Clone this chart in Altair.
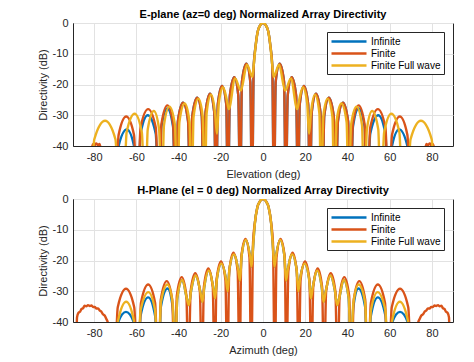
import altair as alt
import pandas as pd

SERIES_NAMES = ["Infinite", "Finite", "Finite Full wave"]
SERIES_COLORS = ["#0072BD", "#D95319", "#EDB120"]
X_TICKS = [-80, -60, -40, -20, 0, 20, 40, 60, 80]
Y_TICKS = [-40, -30, -20, -10, 0]

# ---------------- E-plane (az = 0 deg) : [angle deg, directivity dB] ----------------
E_INFINITE = [
    [-90, -60], [-70.0, -60],
    [-68.4, -40.0], [-64.5, -34.6], [-61.1, -40.0], [-59.5, -60],
    [-58.0, -36.0], [-54.6, -30.0], [-50.8, -36.0], [-49.3, -60],
    [-48.1, -33.8], [-45.3, -27.8], [-42.6, -33.8], [-41.4, -60],
    [-40.3, -31.9], [-37.9, -25.9], [-35.5, -31.9], [-34.4, -60],
    [-33.5, -30.3], [-31.2, -24.3], [-29.0, -30.3], [-28.1, -60],
    [-27.2, -29.0], [-25.1, -23.0], [-23.1, -29.0], [-22.2, -60],
    [-21.4, -26.5], [-19.4, -20.5], [-17.4, -26.5], [-16.6, -60],
    [-15.7, -23.6], [-13.6, -17.6], [-11.7, -23.6], [-10.8, -60],
    [-10.0, -19.2], [-7.9, -13.2], [-6.0, -19.2], [-5.2, -60],
    [-4.4, -14.0], [-3.5, -7.5], [-2.5, -2.8], [-1.2, -0.6], [0, 0],
    [1.2, -0.6], [2.5, -2.8], [3.5, -7.5], [4.4, -14.0], [5.2, -60],
    [6.0, -19.2], [7.9, -13.2], [10.0, -19.2], [10.8, -60],
    [11.7, -23.6], [13.6, -17.6], [15.7, -23.6], [16.6, -60],
    [17.4, -26.5], [19.4, -20.5], [21.4, -26.5], [22.2, -60],
    [23.1, -29.0], [25.1, -23.0], [27.2, -29.0], [28.1, -60],
    [29.0, -30.3], [31.2, -24.3], [33.5, -30.3], [34.4, -60],
    [35.5, -31.9], [37.9, -25.9], [40.3, -31.9], [41.4, -60],
    [42.6, -33.8], [45.3, -27.8], [48.1, -33.8], [49.3, -60],
    [50.8, -36.0], [54.6, -30.0], [58.0, -36.0], [59.5, -60],
    [61.1, -40.0], [64.5, -34.6], [68.4, -40.0], [70.0, -60], [90, -60],
]

E_FINITE = [
    [-90, -60], [-82.0, -55], [-81.2, -42], [-80.6, -39.4], [-79.8, -39.8], [-79.0, -39.2],
    [-78.2, -39.7], [-77.4, -39.3], [-76.6, -42], [-70.0, -60],
    [-68.4, -36.4], [-64.8, -30.4], [-61.1, -36.4], [-59.5, -60],
    [-58.0, -34.0], [-54.4, -28.0], [-50.8, -34.0], [-49.3, -60],
    [-48.1, -32.8], [-45.3, -26.8], [-42.6, -32.8], [-41.4, -60],
    [-40.3, -31.9], [-37.9, -25.9], [-35.5, -31.9], [-34.4, -60],
    [-33.5, -30.3], [-31.2, -24.3], [-29.0, -30.3], [-28.1, -60],
    [-27.2, -29.0], [-25.1, -23.0], [-23.1, -29.0], [-22.2, -60],
    [-21.4, -26.5], [-19.4, -20.5], [-17.4, -26.5], [-16.6, -60],
    [-15.7, -23.6], [-13.6, -17.6], [-11.7, -23.6], [-10.8, -60],
    [-10.0, -19.2], [-7.9, -13.2], [-6.0, -19.2], [-5.2, -60],
    [-4.4, -14.0], [-3.5, -7.5], [-2.5, -2.8], [-1.2, -0.6], [0, 0],
    [1.2, -0.6], [2.5, -2.8], [3.5, -7.5], [4.4, -14.0], [5.2, -60],
    [6.0, -19.2], [7.9, -13.2], [10.0, -19.2], [10.8, -60],
    [11.7, -23.6], [13.6, -17.6], [15.7, -23.6], [16.6, -60],
    [17.4, -26.5], [19.4, -20.5], [21.4, -26.5], [22.2, -60],
    [23.1, -29.0], [25.1, -23.0], [27.2, -29.0], [28.1, -60],
    [29.0, -30.3], [31.2, -24.3], [33.5, -30.3], [34.4, -60],
    [35.5, -31.9], [37.9, -25.9], [40.3, -31.9], [41.4, -60],
    [42.6, -32.8], [45.3, -26.8], [48.1, -32.8], [49.3, -60],
    [50.8, -34.0], [54.4, -28.0], [58.0, -34.0], [59.5, -60],
    [61.1, -36.4], [64.8, -30.4], [68.4, -36.4], [70.0, -60],
    [76.6, -42], [77.4, -39.3], [78.2, -39.7], [79.0, -39.2], [79.8, -39.8],
    [80.6, -39.4], [81.2, -42], [82.0, -55], [90, -60],
]

E_FULLWAVE = [
    [-90, -60], [-82.0, -60], [-79.9, -37.8], [-74.8, -31.8], [-69.9, -37.8], [-68.0, -60],
    [-66.2, -60], [-64.6, -35.5], [-60.8, -29.5], [-57.4, -35.5], [-55.8, -60],
    [-54.6, -34.6], [-51.7, -28.6], [-49.2, -34.6], [-48.0, -60],
    [-46.9, -33.2], [-44.3, -27.2], [-41.7, -33.2], [-40.6, -60],
    [-39.6, -32.2], [-37.1, -26.2], [-34.8, -32.2], [-33.8, -60],
    [-32.9, -30.6], [-30.6, -24.6], [-28.5, -30.6], [-27.6, -60],
    [-26.7, -29.3], [-24.6, -23.3], [-22.7, -29.3], [-21.8, -36.0],
    [-20.9, -26.0], [-18.9, -20.9], [-17.0, -25.5], [-16.2, -28.0],
    [-13.2, -18.0], [-10.5, -22.0], [-7.6, -13.6], [-5.0, -17.5],
    [-4.5, -14.5], [-3.5, -7.5], [-2.5, -2.8], [-1.2, -0.6], [0, 0],
    [1.2, -0.6], [2.5, -2.8], [3.5, -7.5], [4.5, -14.5],
    [5.0, -17.5], [7.6, -13.6], [10.5, -22.0], [13.2, -18.0],
    [16.2, -28.0], [17.0, -25.5], [18.9, -20.9], [20.9, -26.0],
    [21.8, -36.0], [22.7, -29.3], [24.6, -23.3], [26.7, -29.3],
    [27.6, -60], [28.5, -30.6], [30.6, -24.6], [32.9, -30.6],
    [33.8, -60], [34.8, -32.2], [37.1, -26.2], [39.6, -32.2],
    [40.6, -60], [41.7, -33.2], [44.3, -27.2], [46.9, -33.2],
    [48.0, -60], [49.2, -34.6], [51.7, -28.6], [54.6, -34.6],
    [55.8, -60], [57.4, -35.5], [60.8, -29.5], [64.6, -35.5], [66.2, -60],
    [68.0, -60], [69.9, -37.8], [74.8, -31.8], [79.9, -37.8], [82.0, -60], [90, -60],
]

# ---------------- H-plane (el = 0 deg) : [angle deg, directivity dB] ----------------
H_INFINITE = [
    [-90, -60], [-70.3, -60],
    [-68.8, -40.5], [-64.9, -36.7], [-61.0, -40.5], [-59.5, -60],
    [-58.0, -38.0], [-54.4, -32.0], [-51.1, -38.0], [-49.6, -60],
    [-48.4, -35.1], [-45.2, -29.1], [-42.8, -35.1], [-41.6, -50],
    [-40.6, -32.3], [-38.2, -26.3], [-36.1, -32.3], [-35.1, -34.5],
    [-34.1, -30.0], [-31.9, -24.9], [-29.7, -30.0], [-28.7, -33.5],
    [-27.8, -28.6], [-25.7, -23.3], [-23.6, -28.6], [-22.7, -32.3],
    [-21.8, -25.8], [-19.7, -21.0], [-17.6, -25.8], [-16.7, -30.0],
    [-15.9, -22.8], [-13.8, -18.0], [-11.8, -22.8], [-10.9, -26.5],
    [-10.1, -18.3], [-8.1, -13.3], [-6.2, -18.3], [-5.4, -22.0],
    [-4.6, -14.5], [-3.8, -7.5], [-2.7, -2.8], [-1.3, -0.6], [0, 0],
    [1.3, -0.6], [2.7, -2.8], [3.8, -7.5], [4.6, -14.5], [5.4, -22.0],
    [6.2, -18.3], [8.1, -13.3], [10.1, -18.3], [10.9, -26.5],
    [11.8, -22.8], [13.8, -18.0], [15.9, -22.8], [16.7, -30.0],
    [17.6, -25.8], [19.7, -21.0], [21.8, -25.8], [22.7, -32.3],
    [23.6, -28.6], [25.7, -23.3], [27.8, -28.6], [28.7, -33.5],
    [29.7, -30.0], [31.9, -24.9], [34.1, -30.0], [35.1, -34.5],
    [36.1, -32.3], [38.2, -26.3], [40.6, -32.3], [41.6, -50],
    [42.8, -35.1], [45.2, -29.1], [48.4, -35.1], [49.6, -60],
    [51.1, -38.0], [54.4, -32.0], [58.0, -38.0], [59.5, -60],
    [61.0, -40.5], [64.9, -36.7], [68.8, -40.5], [70.3, -60], [90, -60],
]

H_FINITE = [
    [-90, -60], [-88.6, -55], [-88.1, -38.5], [-87.4, -37.0], [-86.6, -36.6], [-86.0, -35.8],
    [-85.2, -35.5], [-84.5, -34.7], [-83.7, -34.9], [-82.9, -34.5], [-82.0, -34.8],
    [-81.3, -34.6], [-80.5, -35.1], [-79.7, -35.1], [-78.9, -35.6], [-78.1, -35.6],
    [-77.3, -36.3], [-76.6, -36.6], [-75.8, -37.5], [-75.0, -37.9], [-74.2, -39.0],
    [-73.4, -40.5], [-72.6, -48], [-70.5, -60],
    [-68.8, -35.2], [-64.9, -29.2], [-61.0, -35.2], [-59.3, -60],
    [-57.8, -33.8], [-54.4, -27.8], [-51.1, -33.8], [-49.6, -60],
    [-48.4, -32.7], [-45.6, -26.7], [-43.0, -32.7], [-41.8, -60],
    [-40.8, -31.4], [-38.5, -25.4], [-36.3, -31.4], [-35.3, -60],
    [-34.3, -30.1], [-32.1, -24.1], [-29.9, -30.1], [-28.9, -60],
    [-28.0, -28.6], [-25.9, -22.6], [-23.8, -28.6], [-22.9, -60],
    [-22.0, -26.3], [-19.9, -20.3], [-17.8, -26.3], [-16.9, -60],
    [-16.0, -23.5], [-14.0, -17.5], [-12.0, -23.5], [-11.1, -60],
    [-10.3, -19.0], [-8.3, -13.0], [-6.4, -19.0], [-5.6, -60],
    [-4.7, -14.0], [-3.8, -7.5], [-2.7, -2.8], [-1.3, -0.6], [0, 0],
    [1.3, -0.6], [2.7, -2.8], [3.8, -7.5], [4.7, -14.0], [5.6, -60],
    [6.4, -19.0], [8.3, -13.0], [10.3, -19.0], [11.1, -60],
    [12.0, -23.5], [14.0, -17.5], [16.0, -23.5], [16.9, -60],
    [17.8, -26.3], [19.9, -20.3], [22.0, -26.3], [22.9, -60],
    [23.8, -28.6], [25.9, -22.6], [28.0, -28.6], [28.9, -60],
    [29.9, -30.1], [32.1, -24.1], [34.3, -30.1], [35.3, -60],
    [36.3, -31.4], [38.5, -25.4], [40.8, -31.4], [41.8, -60],
    [43.0, -32.7], [45.6, -26.7], [48.4, -32.7], [49.6, -60],
    [51.1, -33.8], [54.4, -27.8], [57.8, -33.8], [59.3, -60],
    [61.0, -35.2], [64.9, -29.2], [68.8, -35.2], [70.5, -60],
    [72.6, -48], [73.4, -40.5], [74.2, -39.0], [75.0, -37.9], [75.8, -37.5],
    [76.6, -36.6], [77.3, -36.3], [78.1, -35.6], [78.9, -35.6], [79.7, -35.1],
    [80.5, -35.1], [81.3, -34.6], [82.0, -34.8], [82.9, -34.5], [83.7, -34.9],
    [84.5, -34.7], [85.2, -35.5], [86.0, -35.8], [86.6, -36.6], [87.4, -37.0],
    [88.1, -38.5], [88.6, -55], [90, -60],
]

H_FULLWAVE = [
    [-90, -60], [-70.3, -60],
    [-68.6, -39.4], [-64.8, -33.4], [-61.2, -39.4], [-59.5, -60],
    [-58.0, -36.3], [-54.3, -30.3], [-51.1, -36.3], [-49.6, -60],
    [-48.4, -33.8], [-45.3, -27.8], [-42.8, -33.8], [-41.6, -50],
    [-40.6, -32.3], [-38.2, -26.3], [-36.1, -32.3], [-35.1, -34.5],
    [-34.1, -30.0], [-31.9, -24.9], [-29.7, -30.0], [-28.7, -33.5],
    [-27.8, -28.6], [-25.7, -23.3], [-23.6, -28.6], [-22.7, -32.3],
    [-21.8, -25.8], [-19.7, -21.0], [-17.6, -25.8], [-16.7, -30.0],
    [-15.9, -22.8], [-13.8, -18.0], [-11.8, -22.8], [-10.9, -26.5],
    [-10.1, -18.3], [-8.1, -13.3], [-6.2, -18.3], [-5.4, -22.0],
    [-4.6, -14.5], [-3.8, -7.5], [-2.7, -2.8], [-1.3, -0.6], [0, 0],
    [1.3, -0.6], [2.7, -2.8], [3.8, -7.5], [4.6, -14.5], [5.4, -22.0],
    [6.2, -18.3], [8.1, -13.3], [10.1, -18.3], [10.9, -26.5],
    [11.8, -22.8], [13.8, -18.0], [15.9, -22.8], [16.7, -30.0],
    [17.6, -25.8], [19.7, -21.0], [21.8, -25.8], [22.7, -32.3],
    [23.6, -28.6], [25.7, -23.3], [27.8, -28.6], [28.7, -33.5],
    [29.7, -30.0], [31.9, -24.9], [34.1, -30.0], [35.1, -34.5],
    [36.1, -32.3], [38.2, -26.3], [40.6, -32.3], [41.6, -50],
    [42.8, -33.8], [45.3, -27.8], [48.4, -33.8], [49.6, -60],
    [51.1, -36.3], [54.3, -30.3], [58.0, -36.3], [59.5, -60],
    [61.2, -39.4], [64.8, -33.4], [68.6, -39.4], [70.3, -60], [90, -60],
]

FONT = "Liberation Sans"
AXIS_COLOR = "#262626"


def panel(series, title, xtitle):
    layers = []
    for name, pts in series:
        df = pd.DataFrame(pts, columns=["x", "y"])
        df["series"] = name
        layers.append(
            alt.Chart(df)
            .mark_line(clip=True, strokeWidth=2.4, interpolate="monotone")
            .encode(
                x=alt.X(
                    "x:Q",
                    scale=alt.Scale(domain=[-90, 90], nice=False, zero=False),
                    axis=alt.Axis(
                        title=xtitle, values=X_TICKS, labelExpr="datum.value + ''",
                        labelPadding=5, titlePadding=6,
                    ),
                ),
                y=alt.Y(
                    "y:Q",
                    scale=alt.Scale(domain=[-40, 0], nice=False, zero=False),
                    axis=alt.Axis(
                        title="Directivity (dB)", values=Y_TICKS, labelExpr="datum.value + ''",
                        labelPadding=5, titlePadding=4,
                    ),
                ),
                color=alt.Color(
                    "series:N",
                    scale=alt.Scale(domain=SERIES_NAMES, range=SERIES_COLORS),
                    legend=alt.Legend(
                        title=None, orient="top-right", offset=9,
                        symbolType="M-1,0H6", symbolSize=100, symbolStrokeWidth=2.5,
                        labelFont=FONT, labelFontSize=10, labelColor="#000000",
                        labelOffset=28, rowPadding=0, padding=3,
                        strokeColor=AXIS_COLOR, fillColor="white", cornerRadius=0,
                    ),
                ),
            )
        )
    return alt.layer(*layers).properties(
        width=380, height=123,
        title=alt.TitleParams(title, anchor="middle", frame="group", offset=-3),
    )


top = panel(
    [("Infinite", E_INFINITE), ("Finite", E_FINITE), ("Finite Full wave", E_FULLWAVE)],
    "E-plane (az=0 deg) Normalized Array Directivity", "Elevation (deg)",
)
bottom = panel(
    [("Infinite", H_INFINITE), ("Finite", H_FINITE), ("Finite Full wave", H_FULLWAVE)],
    "H-Plane (el = 0 deg) Normalized Array Directivity", "Azimuth (deg)",
)

chart = (
    alt.vconcat(top, bottom, spacing=4)
    .resolve_legend(color="independent")
    .properties(padding={"left": 28, "top": 0, "right": 5, "bottom": 5}, background="white")
    .configure_view(stroke=AXIS_COLOR, strokeWidth=1)
    .configure_axis(
        labelFont=FONT, labelFontSize=11, labelColor=AXIS_COLOR,
        titleFont=FONT, titleFontSize=11, titleFontWeight="normal", titleColor=AXIS_COLOR,
        gridColor="#e2e2e2", gridOpacity=1, domainColor=AXIS_COLOR, ticks=False,
    )
    .configure_title(font=FONT, fontSize=11, fontWeight="bold", color="#000000")
)

chart.save("out.html", embed_options={"renderer": "svg", "actions": False})
